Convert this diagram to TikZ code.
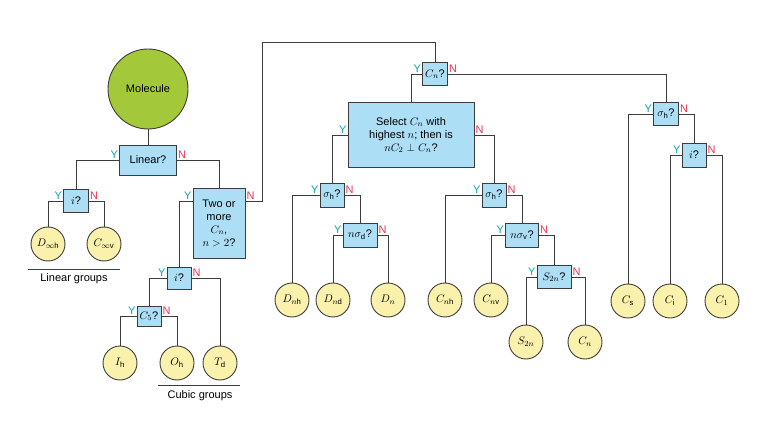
\documentclass[tikz,border=0pt]{standalone}
\usepackage{fontspec}
\setmainfont{Liberation Sans}
\usetikzlibrary{positioning}
\definecolor{boxblue}{RGB}{172,222,246}
\definecolor{leafyel}{RGB}{250,241,172}
\definecolor{molgreen}{RGB}{163,201,58}
\definecolor{yescol}{RGB}{0,168,180}
\definecolor{nocol}{RGB}{236,50,80}
\definecolor{linegray}{RGB}{60,60,60}
\tikzset{
  box/.style={draw=linegray,fill=boxblue,line width=0.9pt,inner sep=1pt,align=center,font=\fontsize{11}{13}\selectfont},
  leaf/.style={draw=linegray,fill=leafyel,line width=0.9pt,circle,minimum size=34pt,inner sep=0pt,font=\fontsize{11}{13}\selectfont},
  conn/.style={linegray,line width=0.9pt},
  ylab/.style={text=yescol,anchor=south east,inner sep=1pt,font=\fontsize{11}{13}\selectfont},
  nlab/.style={text=nocol,anchor=south west,inner sep=1pt,font=\fontsize{11}{13}\selectfont}
}
% Y and N marks beside a decision box
\newcommand{\yesno}[2]{%
  \node[ylab] at ([yshift=#2]#1.west) {Y};
  \node[nlab] at ([yshift=#2]#1.east) {N};}
\begin{document}
\begin{tikzpicture}[x=1pt,y=-1pt]
  \useasboundingbox (0,0) rectangle (757,422);

  % decisions
  \node[draw=linegray,fill=molgreen,line width=0.9pt,circle,minimum size=80pt,font=\fontsize{11}{13}\selectfont] (mol) at (148,89) {Molecule};
  \node[box,minimum width=57pt,minimum height=30pt] (lin) at (148,160) {Linear?};
  \node[box,minimum width=25pt,minimum height=23pt] (ilin) at (76,201) {$i$?};
  \node[box,minimum width=52pt,minimum height=70pt] (two) at (219,223) {Two or\\more\\$C_n$,\\$n>2$?};
  \node[box,minimum width=24pt,minimum height=22pt] (icub) at (179,278) {$i$?};
  \node[box,minimum width=24pt,minimum height=20pt] (cfive) at (149,316) {$C_5$?};
  \node[box,minimum width=25pt,minimum height=23pt] (cn) at (435,74) {$C_n$?};
  \node[box,minimum width=126pt,minimum height=65pt] (sel) at (411,135) {Select $C_n$ with\\highest $n$; then is\\$nC_2\perp C_n$?};
  \node[box,minimum width=24pt,minimum height=24pt] (shl) at (332,195) {$\sigma_{\mathrm{h}}$?};
  \node[box,minimum width=34pt,minimum height=24pt] (nsd) at (360,235) {$n\sigma_{\mathrm{d}}$?};
  \node[box,minimum width=24pt,minimum height=24pt] (shm) at (494,195) {$\sigma_{\mathrm{h}}$?};
  \node[box,minimum width=33pt,minimum height=24pt] (nsv) at (522,235) {$n\sigma_{\mathrm{v}}$?};
  \node[box,minimum width=34pt,minimum height=23pt] (stwo) at (554,277) {$S_{2n}$?};
  \node[box,minimum width=25pt,minimum height=23pt] (shr) at (666,114) {$\sigma_{\mathrm{h}}$?};
  \node[box,minimum width=24pt,minimum height=24pt] (ilow) at (694,155) {$i$?};

  % groups
  \node[leaf] (dih) at (48,244) {$D_{\infty\mathrm{h}}$};
  \node[leaf] (civ) at (104,244) {$C_{\infty\mathrm{v}}$};
  \node[leaf] (ih) at (120,363) {$I_{\mathrm{h}}$};
  \node[leaf] (oh) at (177,363) {$O_{\mathrm{h}}$};
  \node[leaf] (td) at (220,363) {$T_{\mathrm{d}}$};
  \node[leaf] (dnh) at (292,300) {$D_{n\mathrm{h}}$};
  \node[leaf] (dnd) at (333,300) {$D_{n\mathrm{d}}$};
  \node[leaf] (dn) at (388,300) {$D_n$};
  \node[leaf] (cnh) at (445,300) {$C_{n\mathrm{h}}$};
  \node[leaf] (cnv) at (491,300) {$C_{n\mathrm{v}}$};
  \node[leaf] (s2n) at (526,342) {$S_{2n}$};
  \node[leaf] (cnl) at (585,342) {$C_n$};
  \node[leaf] (cs) at (628,301) {$C_{\mathrm{s}}$};
  \node[leaf] (ci) at (670,301) {$C_{\mathrm{i}}$};
  \node[leaf] (cone) at (722,301) {$C_1$};

  % branches
  \begin{scope}[conn]
    \draw (mol) -- (lin);
    \draw (lin.west) -| (ilin.north);
    \draw (lin.east) -| (two.north);
    \draw (ilin.west) -| (dih.north);
    \draw (ilin.east) -| (civ.north);
    \draw ([yshift=22pt]two.west) -| (icub.north);
    \coordinate (topbend) at (262,42);
    \draw ([yshift=22pt]two.east) -| (topbend) -| (cn.north);
    \draw (icub.west) -| (cfive.north);
    \draw (icub.east) -| (td.north);
    \draw (cfive.west) -| (ih.north);
    \draw (cfive.east) -| (oh.north);
    \draw (cn.west) -| (sel.north);
    \draw (cn.east) -| (shr.north);
    \draw (sel.west) -| (shl.north);
    \draw (sel.east) -| (shm.north);
    \draw (shl.west) -| (dnh.north);
    \draw (shl.east) -| (nsd.north);
    \draw (nsd.west) -| (dnd.north);
    \draw (nsd.east) -| (dn.north);
    \draw (shm.west) -| (cnh.north);
    \draw (shm.east) -| (nsv.north);
    \draw (nsv.west) -| (cnv.north);
    \draw (nsv.east) -| (stwo.north);
    \draw (stwo.west) -| (s2n.north);
    \draw (stwo.east) -| (cnl.north);
    \draw (shr.west) -| (cs.north);
    \draw (shr.east) -| (ilow.north);
    \draw (ilow.west) -| (ci.north);
    \draw (ilow.east) -| (cone.north);
  \end{scope}

  % Y/N marks
  \yesno{lin}{0pt}
  \yesno{ilin}{0pt}
  \yesno{two}{22pt}
  \yesno{icub}{0pt}
  \yesno{cfive}{0pt}
  \yesno{cn}{0pt}
  \yesno{sel}{0pt}
  \yesno{shl}{0pt}
  \yesno{nsd}{0pt}
  \yesno{shm}{0pt}
  \yesno{nsv}{0pt}
  \yesno{stwo}{0pt}
  \yesno{shr}{0pt}
  \yesno{ilow}{0pt}

  % group captions
  \draw[conn] (28,269) -- (120,269);
  \node[font=\fontsize{11}{13}\selectfont] (lincap) at (74,279) {Linear groups};
  \draw[conn] (158,385) -- (240,385);
  \node[font=\fontsize{11}{13}\selectfont] (cubcap) at (200,396) {Cubic groups};
\end{tikzpicture}
\end{document}
